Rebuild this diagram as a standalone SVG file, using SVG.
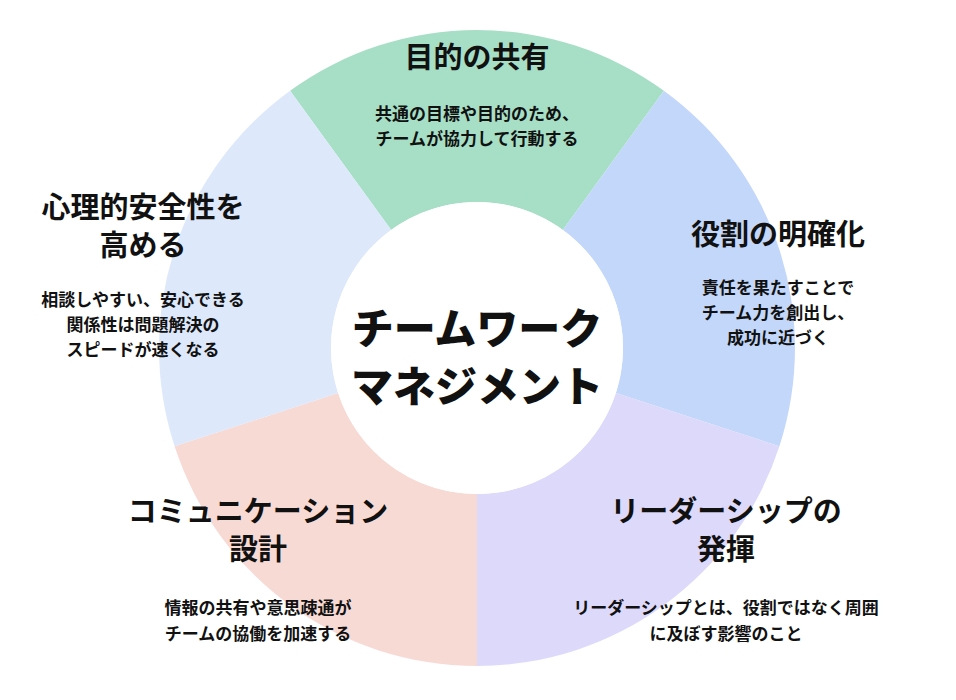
<svg xmlns="http://www.w3.org/2000/svg" width="956" height="700" viewBox="0 0 956 700">
<style>
text{font-family:"Noto Sans CJK JP","Noto Sans",sans-serif;fill:#111;text-anchor:middle;font-weight:bold}
.t{font-size:29px}
.b{font-size:17px}
.c{font-size:42px;font-weight:900}
</style>
<rect width="956" height="700" fill="#fff"/>
<g id="seg-top"><path d="M290.1,90.7 A318,318 0 0 1 663.9,90.7 L562.8,229.9 A146,146 0 0 0 391.2,229.9 Z" fill="#a6dfc6"/>
<text class="t" x="477" y="68">目的の共有</text>
<text class="b" x="477" y="120">共通の目標や目的のため、</text>
<text class="b" x="477" y="145">チームが協力して行動する</text></g>
<g id="seg-right"><path d="M663.9,90.7 A318,318 0 0 1 779.4,446.3 L615.9,393.1 A146,146 0 0 0 562.8,229.9 Z" fill="#c3d7fa"/>
<text class="t" x="778" y="245">役割の明確化</text>
<text class="b" x="778" y="294">責任を果たすことで</text>
<text class="b" x="778" y="319">チーム力を創出し、</text>
<text class="b" x="778" y="344">成功に近づく</text></g>
<g id="seg-bottomright"><path d="M779.4,446.3 A318,318 0 0 1 477,666 L477,494 A146,146 0 0 0 615.9,393.1 Z" fill="#ddd9fb"/>
<text class="t" x="726" y="522">リーダーシップの</text>
<text class="t" x="726" y="560">発揮</text>
<text class="b" x="726" y="614">リーダーシップとは、役割ではなく周囲</text>
<text class="b" x="726" y="640">に及ぼす影響のこと</text></g>
<g id="seg-bottomleft"><path d="M477,666 A318,318 0 0 1 174.6,446.3 L338.1,393.1 A146,146 0 0 0 477,494 Z" fill="#f8dad5"/>
<text class="t" x="258" y="522">コミュニケーション</text>
<text class="t" x="258" y="560">設計</text>
<text class="b" x="258" y="614">情報の共有や意思疎通が</text>
<text class="b" x="258" y="640">チームの協働を加速する</text></g>
<g id="seg-left"><path d="M174.6,446.3 A318,318 0 0 1 290.1,90.7 L391.2,229.9 A146,146 0 0 0 338.1,393.1 Z" fill="#dde8fb"/>
<text class="t" x="143" y="218">心理的安全性を</text>
<text class="t" x="143" y="256">高める</text>
<text class="b" x="143" y="306">相談しやすい、安心できる</text>
<text class="b" x="143" y="331">関係性は問題解決の</text>
<text class="b" x="143" y="356">スピードが速くなる</text></g>
<g id="center"><circle cx="477" cy="348" r="146" fill="#fff"/>
<text class="c" x="477" y="344">チームワーク</text>
<text class="c" x="477" y="402">マネジメント</text></g>
<g id="connectors"></g>
</svg>
